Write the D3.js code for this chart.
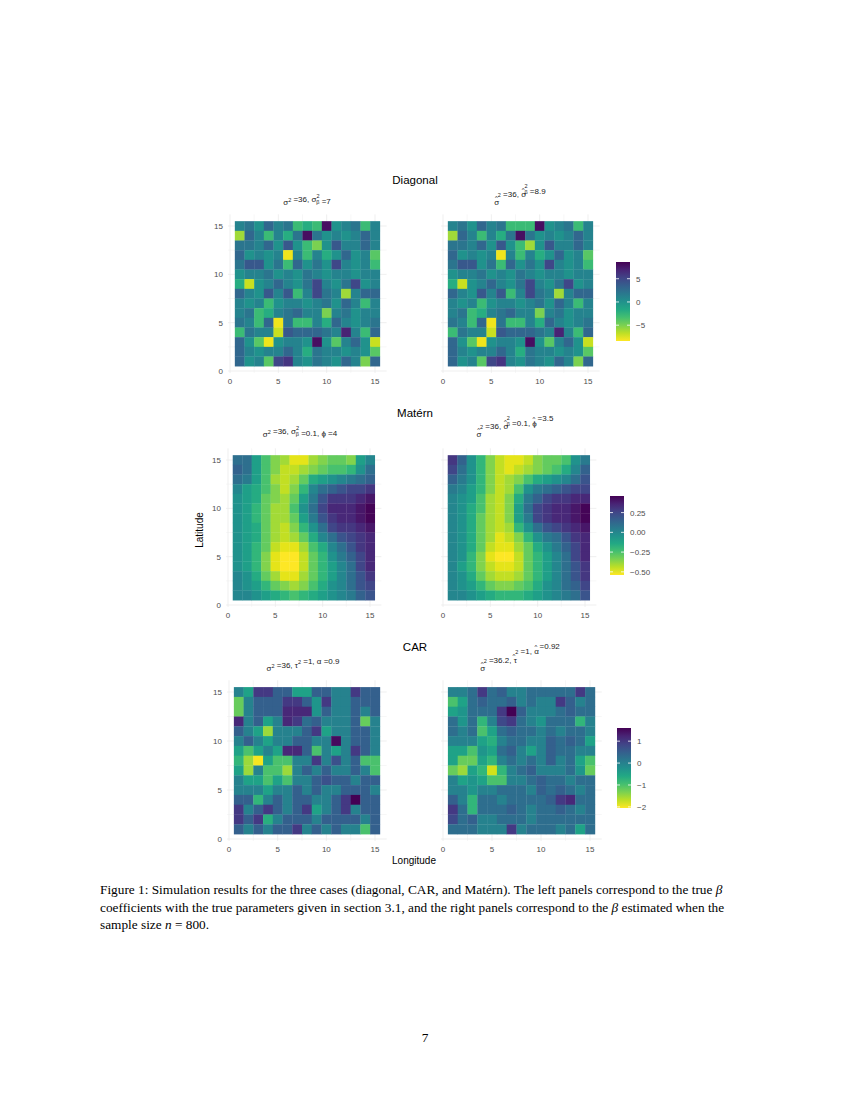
<!DOCTYPE html>
<html><head><meta charset="utf-8">
<script src="https://cdn.jsdelivr.net/npm/d3@7"></script>
<style>body{margin:0;background:#fff}</style></head>
<body><svg id="c" width="850" height="1100"></svg>
<script>
// rows listed from top (y=15) to bottom (y=1); columns x=1..15
const diagTrue=[
[1,2,0,3,1,2,-3,-2,-3,8,0,1,2,-3,1],
[-6,3,1,-3,1,-2,2,8,2,0,1,0,1,3,1],
[2,2,1,3,0,4,0,-3,-5,0,4,1,1,3,1],
[3,0,1,0,1,-8,1,-3,1,-2,0,3,0,1,-4],
[2,4,4,0,2,-3,3,0,2,0,5,1,0,1,-3],
[0,1,1,2,0,1,0,2,1,0,1,1,0,1,1],
[-2,-7,0,1,3,1,0,2,5,1,0,2,5,0,1],
[3,1,0,4,1,4,-3,1,5,2,1,-6,1,3,3],
[1,0,1,-3,0,1,1,0,1,2,0,3,1,-3,1],
[1,2,-3,-2,1,2,3,1,1,-5,1,2,0,1,1],
[2,1,-3,3,-8,2,-3,-3,1,-2,3,1,0,1,2],
[-3,2,1,1,-7,4,3,3,3,2,1,7,1,-3,3],
[3,0,-4,-8,0,1,1,0,8,0,-4,1,3,0,-7],
[3,1,0,1,1,3,1,-2,2,1,1,0,1,0,-4],
[3,0,1,-4,5,6,1,0,2,1,0,3,1,-5,3]];
const diagEst=[
[1,2,0,3,1,2,-3,-3,-3,8,0,1,2,-3,1],
[-6,3,1,-3,1,-2,2,8,2,0,1,0,1,3,1],
[2,2,1,3,0,4,0,-3,-6,0,4,1,1,3,1],
[3,0,1,0,1,-8,1,-3,1,-2,0,3,0,1,-4],
[2,4,4,0,2,-3,3,0,2,0,5,1,0,1,-3],
[0,1,1,2,0,1,0,2,1,0,1,1,0,1,1],
[-2,-7,0,1,3,1,0,2,5,1,0,2,5,0,1],
[3,1,0,4,1,4,-3,1,5,2,1,-6,1,3,3],
[1,0,1,-3,0,1,1,0,1,2,0,3,1,-3,1],
[1,2,-3,-2,1,2,3,1,1,-5,1,2,0,1,1],
[2,1,-3,3,-8,2,-3,-3,1,-2,3,1,0,1,2],
[-3,2,1,1,-7,4,3,3,3,2,1,7,1,-3,3],
[3,0,-4,-8,0,1,1,0,8,0,-4,1,3,0,-7],
[3,1,0,1,1,3,1,-2,2,1,1,0,1,0,-4],
[3,0,1,-4,5,6,1,0,2,1,0,3,1,-5,3]];
const maternTrue=[
[0.1,0.1,-0.1,-0.25,-0.35,-0.4,-0.5,-0.5,-0.4,-0.35,-0.3,-0.3,-0.35,-0.1,0.0],
[0.15,0.1,-0.1,-0.25,-0.35,-0.45,-0.45,-0.4,-0.35,-0.3,-0.25,-0.25,-0.2,-0.05,0.1],
[0.1,0.05,-0.1,-0.25,-0.4,-0.45,-0.4,-0.3,-0.15,-0.1,-0.05,0.0,0.05,0.1,0.15],
[0.0,-0.1,-0.15,-0.25,-0.35,-0.45,-0.35,-0.2,0.0,0.1,0.15,0.2,0.25,0.25,0.3],
[-0.05,-0.1,-0.15,-0.3,-0.35,-0.4,-0.3,-0.1,0.05,0.2,0.3,0.3,0.3,0.35,0.4],
[-0.05,-0.1,-0.2,-0.3,-0.4,-0.4,-0.25,-0.05,0.1,0.25,0.35,0.35,0.35,0.4,0.45],
[-0.05,-0.1,-0.2,-0.3,-0.4,-0.4,-0.3,-0.1,0.05,0.2,0.3,0.35,0.35,0.4,0.45],
[-0.05,-0.1,-0.15,-0.3,-0.4,-0.45,-0.35,-0.2,-0.05,0.1,0.25,0.3,0.3,0.35,0.4],
[-0.05,-0.1,-0.15,-0.3,-0.4,-0.45,-0.4,-0.3,-0.15,0.0,0.1,0.2,0.25,0.3,0.35],
[-0.05,-0.1,-0.2,-0.3,-0.45,-0.5,-0.5,-0.4,-0.25,-0.15,0.0,0.1,0.2,0.3,0.35],
[-0.05,-0.1,-0.2,-0.35,-0.5,-0.55,-0.55,-0.45,-0.3,-0.2,-0.05,0.05,0.15,0.25,0.35],
[-0.05,-0.1,-0.2,-0.35,-0.5,-0.55,-0.55,-0.45,-0.3,-0.2,-0.1,0.0,0.1,0.25,0.35],
[0.0,-0.05,-0.15,-0.3,-0.4,-0.5,-0.5,-0.4,-0.3,-0.2,-0.1,0.0,0.1,0.2,0.3],
[0.0,-0.05,-0.1,-0.2,-0.3,-0.35,-0.4,-0.35,-0.25,-0.15,-0.05,0.0,0.1,0.2,0.25],
[0.0,0.0,-0.05,-0.1,-0.15,-0.2,-0.25,-0.2,-0.15,-0.1,-0.05,0.0,0.05,0.15,0.2]];
const maternEst=[
[0.3,0.15,-0.05,-0.2,-0.35,-0.45,-0.5,-0.5,-0.45,-0.35,-0.3,-0.3,-0.25,-0.05,0.05],
[0.25,0.1,-0.05,-0.2,-0.35,-0.45,-0.5,-0.45,-0.4,-0.35,-0.3,-0.25,-0.15,0.0,0.15],
[0.15,0.05,-0.05,-0.2,-0.35,-0.45,-0.4,-0.35,-0.25,-0.15,-0.1,-0.05,0.0,0.1,0.2],
[0.05,0.0,-0.1,-0.2,-0.35,-0.45,-0.4,-0.25,-0.05,0.05,0.1,0.15,0.2,0.25,0.25],
[0.0,-0.05,-0.1,-0.25,-0.4,-0.45,-0.35,-0.15,0.05,0.15,0.25,0.3,0.3,0.35,0.35],
[0.0,-0.05,-0.15,-0.25,-0.4,-0.45,-0.35,-0.1,0.1,0.25,0.3,0.35,0.35,0.4,0.45],
[0.0,-0.05,-0.15,-0.3,-0.4,-0.45,-0.35,-0.1,0.05,0.25,0.3,0.35,0.35,0.4,0.45],
[0.0,-0.05,-0.15,-0.3,-0.4,-0.45,-0.4,-0.2,-0.05,0.1,0.2,0.25,0.3,0.35,0.4],
[0.0,-0.05,-0.15,-0.3,-0.4,-0.5,-0.45,-0.35,-0.2,-0.05,0.05,0.1,0.2,0.3,0.35],
[0.0,-0.05,-0.15,-0.3,-0.45,-0.5,-0.5,-0.4,-0.3,-0.15,-0.05,0.05,0.15,0.25,0.35],
[0.0,-0.05,-0.2,-0.35,-0.5,-0.55,-0.55,-0.45,-0.3,-0.2,-0.1,0.0,0.1,0.25,0.35],
[0.0,-0.1,-0.2,-0.35,-0.45,-0.5,-0.5,-0.45,-0.3,-0.2,-0.1,0.0,0.1,0.2,0.3],
[0.0,-0.05,-0.15,-0.3,-0.4,-0.45,-0.45,-0.4,-0.3,-0.2,-0.1,0.0,0.1,0.2,0.3],
[0.0,-0.05,-0.1,-0.2,-0.3,-0.35,-0.35,-0.3,-0.25,-0.15,-0.05,0.0,0.1,0.15,0.25],
[0.0,0.0,-0.05,-0.1,-0.15,-0.2,-0.2,-0.2,-0.15,-0.1,-0.05,0.0,0.05,0.1,0.2]];
const carTrue=[
[0,-0.5,1,1,0.5,0.5,-0.5,-0.5,0.5,0.5,0,0,1,0.5,0.5],
[-1.2,0,0.5,0.5,0.5,1,1,0.5,-0.3,1,0,0,0.5,0.5,0.5],
[-1.2,0,0.5,0.5,0.5,1.2,1.2,1.2,-0.3,0.5,0,0,0.5,0,0.5],
[1.2,0,0.5,-0.5,0,1.2,1,0.3,0.5,0,0,0,0.5,-1.2,0],
[0.5,0,-0.5,-1.5,0,0,0,0.5,1,-0.5,0,0,0.5,0.5,0],
[0,0.5,0,-0.5,0,0,0.5,0.5,0,0,1.5,0,0.5,0.5,0],
[-0.5,-1,-0.5,0,-0.5,1.2,1.2,0.5,-1,0,-0.5,0,1,0.5,0],
[-0.8,-1.5,-2,-0.5,-1,-1,0,0,1,0,0.7,0,0.5,-1,-1],
[-0.5,-1.5,0,-1,-1,-1.5,0,0.5,0,0.5,0,0,0.5,0,-1],
[0,-0.5,-0.5,-1,-0.5,-1,0,0,0.5,0.7,0.5,0.5,0,0.5,0.5],
[0,0,0,-0.5,0,0,0.5,0,0.5,0,0,0.5,0.5,0.5,0],
[0.5,0.5,-0.8,0,0.5,0,0.5,0.5,0,0,0.5,1,1.6,0.5,0.5],
[1,0,0.5,1,0.5,0,0.5,1,-0.5,0,0.5,1,0,0.5,0.5],
[1,0.5,1,-0.7,0,0.5,0.5,0.5,0,0.5,0.5,0.5,0.5,0,0.5],
[0.5,0,0.5,0,0.5,0.5,1,0,0.5,0,0.5,0,0,-1,0.5]];
const carEst=[
[0,0,0.3,1,0.3,0.5,0,0,0.3,0.3,0.3,0.3,0.3,1,0.3],
[-1,-0.5,0.3,0.5,0.3,0.3,0.5,0,0.3,0,0,1,0.5,0,0.3],
[-0.5,-0.3,0.3,0.3,0.3,1,1.6,0.5,0,0,0,0.3,0.5,0.3,0.3],
[0.3,-0.3,0.3,-0.8,0,0.8,1,0.3,0,-0.3,0.3,0.3,0.3,-0.8,0],
[0.3,0,0.3,-1,-0.5,0.3,0.5,0.3,0.3,0,0.3,0,0.3,0.3,0],
[0,0,0,-0.5,-0.7,0,0.3,0.3,0,0,0.5,0.3,0.5,0.3,-0.5],
[-0.5,-0.5,-1,-0.3,-0.5,0.3,0.5,0,-0.5,0,0.5,0.3,0.3,0,0],
[-0.5,-1.2,-1.2,-0.5,-0.8,0,0.3,0,0.3,0,0.5,0,0.3,-0.5,-1],
[-1.2,-1.5,-0.5,-0.8,-1.8,-0.8,0,0.3,0.5,0,0,0,0.3,-0.3,-1.2],
[0,-0.5,-0.3,-0.5,-1,-1,0,0,0.3,0.5,0.3,0.3,0,0.3,0.3],
[0,0,-0.3,0,0,0.3,0.3,0.3,0,0.5,0.3,0.5,0.3,0,0.3],
[0.5,0,-0.8,0.3,0.3,0,0.3,0.3,0.3,0.3,0.5,1,1.2,0.3,0.3],
[1,0.3,-0.8,0.3,0.3,0.3,0.5,0.3,0,0.3,0.3,0.5,0.3,0,0.3],
[0.8,0.3,0.5,0,0,0.3,0.3,0.3,0,0.3,0.3,0.3,0.3,0.3,0.3],
[0.3,0.3,0.3,0,0,0,1,0,0.3,0.3,0.3,0,0.3,-0.5,0.3]];
const axisTicks=[0,5,10,15];
const diagRange=[-8.4,8.6], diagTicks=[-5,0,5];
const maternRange=[-0.54,0.46], maternTicks=[-0.5,-0.25,0,0.25];
const carRange=[-2.05,1.6], carTicks=[-2,-1,0,1];
const sections=["Diagonal","Matérn","CAR"];

const svg=d3.select("#c");
const SANS="'Liberation Sans', Arial, sans-serif", SERIF="'Liberation Serif','Times New Roman',serif";
const GRAY="#4d4d4d";

function panel(data,range,x0,x15,y0,y15,showY){
  const g=svg.append("g");
  const x=d3.scaleLinear().domain([0,15]).range([x0,x15]);
  const y=d3.scaleLinear().domain([0,15]).range([y0,y15]);
  const color=d3.scaleSequential(d3.interpolateViridis).domain([range[1],range[0]]);
  const gx=[0,2.5,5,7.5,10,12.5,15];
  g.selectAll(".gv").data(gx).enter().append("line")
   .attr("x1",d=>x(d)).attr("x2",d=>x(d)).attr("y1",y(-0.2)).attr("y2",y(16.2))
   .attr("stroke","#ebebeb").attr("stroke-width",d=>d%5===0?0.8:0.4);
  g.selectAll(".gh").data(gx).enter().append("line")
   .attr("y1",d=>y(d)).attr("y2",d=>y(d)).attr("x1",x(-0.2)).attr("x2",x(16.2))
   .attr("stroke","#ebebeb").attr("stroke-width",d=>d%5===0?0.8:0.4);
  const cells=[];
  data.forEach((row,i)=>row.forEach((v,j)=>cells.push({c:j+1,r:15-i,v})));
  g.selectAll("rect").data(cells).enter().append("rect")
   .attr("x",d=>x(d.c-0.5)).attr("y",d=>y(d.r+0.5))
   .attr("width",x(1)-x(0)+0.3).attr("height",y(0)-y(1)+0.3)
   .attr("fill",d=>color(d.v));
  g.selectAll(".xt").data(axisTicks).enter().append("text")
   .attr("x",d=>x(d)).attr("y",y0+13).attr("text-anchor","middle")
   .attr("font-family",SANS).attr("font-size",8).attr("fill",GRAY).text(d=>d);
  if(showY) g.selectAll(".yt").data(axisTicks).enter().append("text")
   .attr("x",x0-7).attr("y",d=>y(d)+3).attr("text-anchor","end")
   .attr("font-family",SANS).attr("font-size",8).attr("fill",GRAY).text(d=>d);
}
function colorbar(range,ticks,xl,yt,yb,fmt){
  const h=yb-yt, id="grad"+xl+yt;
  const color=d3.scaleSequential(d3.interpolateViridis).domain([range[1],range[0]]);
  const grad=svg.append("defs").append("linearGradient").attr("id",id)
   .attr("x1",0).attr("x2",0).attr("y1",1).attr("y2",0);
  d3.range(0,1.001,0.1).forEach(t=>grad.append("stop").attr("offset",t)
   .attr("stop-color",color(range[0]+t*(range[1]-range[0]))));
  svg.append("rect").attr("x",xl).attr("y",yt).attr("width",14).attr("height",h).attr("fill",`url(#${id})`);
  const s=d3.scaleLinear().domain(range).range([yb,yt]);
  ticks.forEach(t=>{
    svg.append("line").attr("x1",xl).attr("x2",xl+3).attr("y1",s(t)).attr("y2",s(t)).attr("stroke","#fff").attr("stroke-width",0.8);
    svg.append("line").attr("x1",xl+11).attr("x2",xl+14).attr("y1",s(t)).attr("y2",s(t)).attr("stroke","#fff").attr("stroke-width",0.8);
    svg.append("text").attr("x",xl+20).attr("y",s(t)+3).attr("font-family",SANS).attr("font-size",8).attr("fill",GRAY).text(fmt(t));
  });
}
// segs: {t, hat, sup, sub, after}
function lab(cx,cy,segs){
  const t=svg.append("text").attr("x",cx).attr("y",cy).attr("text-anchor","middle")
   .attr("font-family",SANS).attr("font-size",8).attr("fill","#1a1a1a");
  segs.forEach(s=>{
    t.append("tspan").text(s.t);
    if(s.hat){
      t.append("tspan").attr("dx",-4.3).attr("dy",-5).attr("font-size",6).text("^");
      t.append("tspan").attr("dx",0.5).attr("dy",5).text("");
    }
    if(s.sup!==undefined && s.sub!==undefined){
      t.append("tspan").attr("dy",-3.5).attr("font-size",5.5).text(s.sup);
      t.append("tspan").attr("dy",5.5).attr("dx",-3.2).attr("font-size",5.5).text(s.sub);
      t.append("tspan").attr("dy",-2).text("");
    } else if(s.sup!==undefined){
      t.append("tspan").attr("dy",-3.5).attr("font-size",5.5).text(s.sup);
      t.append("tspan").attr("dy",3.5).text("");
    }
    if(s.after) t.append("tspan").text(s.after);
  });
}
[[180,sections[0]],[413,sections[1]],[647,sections[2]]].forEach(d=>
  svg.append("text").attr("x",415).attr("y",d[0]+4).attr("text-anchor","middle")
   .attr("font-family",SANS).attr("font-size",11.5).attr("fill","#000").text(d[1]));
lab(307,205,[{t:"σ",sup:"2",after:" =36, "},{t:"σ",sup:"2",sub:"β",after:" =7"}]);
lab(520,205,[{t:"σ",hat:1,sup:"2",after:" =36, "},{t:"σ",hat:1,sup:"2",sub:"β",after:" =8.9"}]);
lab(300,437,[{t:"σ",sup:"2",after:" =36, "},{t:"σ",sup:"2",sub:"β",after:" =0.1, ϕ =4"}]);
lab(515,437,[{t:"σ",hat:1,sup:"2",after:" =36, "},{t:"σ",hat:1,sup:"2",sub:"β",after:" =0.1, "},{t:"ϕ",hat:1,after:" =3.5"}]);
lab(303,671,[{t:"σ",sup:"2",after:" =36, "},{t:"τ",sup:"2",after:" =1, α =0.9"}]);
lab(520,671,[{t:"σ",hat:1,sup:"2",after:" =36.2, "},{t:"τ",hat:1,sup:"2",after:" =1, "},{t:"α",hat:1,after:" =0.92"}]);

panel(diagTrue,diagRange,230,375,371,226,true);
panel(diagEst,diagRange,443,588,371,226,false);
panel(maternTrue,maternRange,228,370,605,460,true);
panel(maternEst,maternRange,443,585,605,460,false);
panel(carTrue,carRange,229,375,839,692,true);
panel(carEst,carRange,443,590,839,692,false);
colorbar(diagRange,diagTicks,616,262,341,d=>d<0?"−"+(-d):d);
colorbar(maternRange,maternTicks,610,496,575,d=>d<0?"−"+(-d).toFixed(2):d.toFixed(2));
colorbar(carRange,carTicks,617,728,808,d=>d<0?"−"+(-d):d);

svg.append("text").attr("transform","translate(203,530) rotate(-90)").attr("text-anchor","middle")
 .attr("font-family",SANS).attr("font-size",10).text("Latitude");
svg.append("text").attr("x",414).attr("y",864).attr("text-anchor","middle")
 .attr("font-family",SANS).attr("font-size",10).text("Longitude");

const cap=svg.append("g").attr("font-family",SERIF).attr("font-size",13.3).attr("fill","#000");
const c1=cap.append("text").attr("x",100).attr("y",894);
c1.append("tspan").text("Figure 1: Simulation results for the three cases (diagonal, CAR, and Matérn). The left panels correspond to the true ");
c1.append("tspan").attr("font-style","italic").text("β");
const c2=cap.append("text").attr("x",100).attr("y",912);
c2.append("tspan").text("coefficients with the true parameters given in section 3.1, and the right panels correspond to the ");
c2.append("tspan").attr("font-style","italic").text("β");
c2.append("tspan").text(" estimated when the");
const c3=cap.append("text").attr("x",100).attr("y",929);
c3.append("tspan").text("sample size ");
c3.append("tspan").attr("font-style","italic").text("n");
c3.append("tspan").text(" = 800.");
svg.append("text").attr("x",425).attr("y",1042).attr("text-anchor","middle")
 .attr("font-family",SERIF).attr("font-size",13.3).text("7");
</script></body></html>
